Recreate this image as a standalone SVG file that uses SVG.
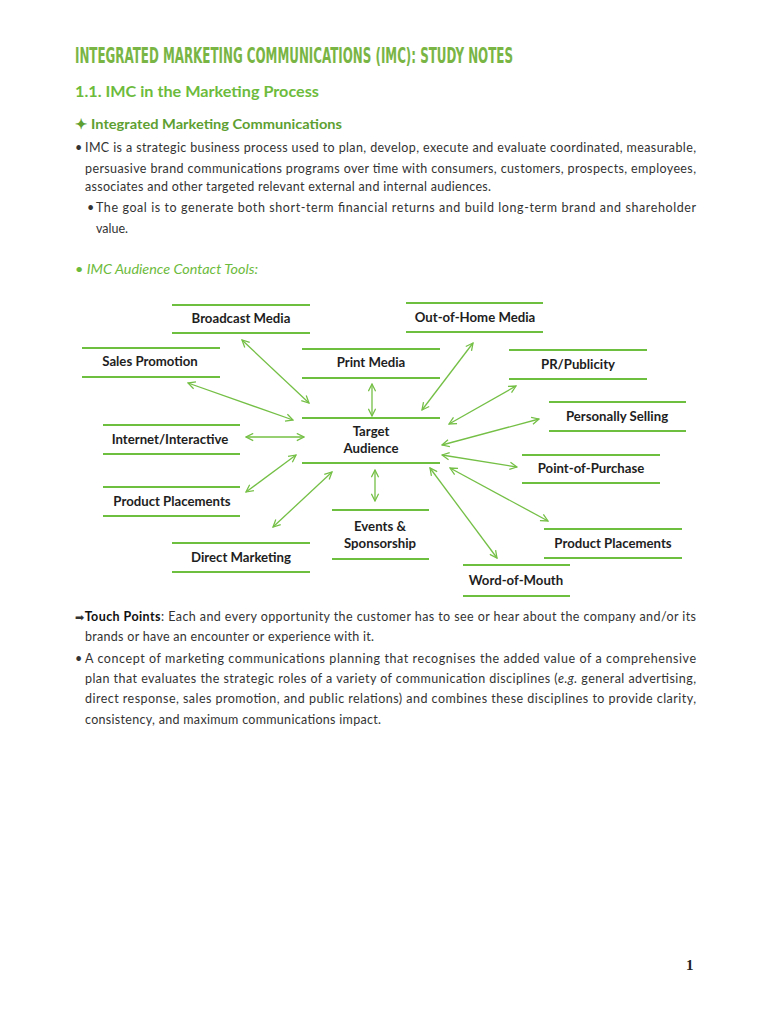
<svg xmlns="http://www.w3.org/2000/svg" width="768" height="1024" viewBox="0 0 768 1024">
<style>
.title{font-family:"DejaVu Sans Condensed","DejaVu Sans",sans-serif;font-weight:bold;font-size:21px;fill:#79b545}
.sub{font-family:Lato,"Noto Sans",sans-serif;font-weight:bold;font-size:15px;fill:#6dbb3d}
.h3{font-family:Lato,"Noto Sans",sans-serif;font-weight:bold;font-size:14px;fill:#5e9f32}
.body{font-family:Lato,"Noto Sans",sans-serif;font-size:12.5px;fill:#333}
.it{font-family:Lato,"Noto Sans",sans-serif;font-style:italic;font-size:13.5px;fill:#6dbb3d}
.lbl{font-family:Lato,"Noto Sans",sans-serif;font-weight:bold;font-size:13.2px;fill:#1e1e1e;text-anchor:middle}
.rule{stroke:#6cbf3f;stroke-width:2}
.conn{stroke:#74bf45;stroke-width:1.3;fill:none;marker-start:url(#ah);marker-end:url(#ah)}
.pg{font-family:"Liberation Serif",serif;font-weight:bold;font-size:15px;fill:#222}
</style>
<defs>
<marker id="ah" viewBox="0 0 10 10" refX="9" refY="5" markerWidth="9" markerHeight="9" markerUnits="userSpaceOnUse" orient="auto-start-reverse">
<path d="M1,1 L9,5 L1,9" fill="none" stroke="#74bf45" stroke-width="1.4"/>
</marker>
</defs>
<rect width="768" height="1024" fill="#fff"/>

<text class="title" transform="scale(0.7,1)" x="107.14" y="63" textLength="625.7" lengthAdjust="spacingAndGlyphs">INTEGRATED MARKETING COMMUNICATIONS (IMC): STUDY NOTES</text>
<text class="sub" x="75" y="97" textLength="244" lengthAdjust="spacingAndGlyphs">1.1. IMC in the Marketing Process</text>
<text class="h3" x="75" y="129" textLength="267" lengthAdjust="spacingAndGlyphs">✦ Integrated Marketing Communications</text>

<text class="body" x="75" y="152">•</text>
<text class="body" x="85" y="152" textLength="611" lengthAdjust="spacing">IMC is a strategic business process used to plan, develop, execute and evaluate coordinated, measurable,</text>
<text class="body" x="85" y="173" textLength="611" lengthAdjust="spacing">persuasive brand communications programs over time with consumers, customers, prospects, employees,</text>
<text class="body" x="85" y="191" textLength="406" lengthAdjust="spacing">associates and other targeted relevant external and internal audiences.</text>
<text class="body" x="87" y="212">•</text>
<text class="body" x="96" y="212" textLength="600" lengthAdjust="spacing">The goal is to generate both short-term financial returns and build long-term brand and shareholder</text>
<text class="body" x="96" y="233">value.</text>

<text class="it" x="75" y="274" textLength="183" lengthAdjust="spacingAndGlyphs">• IMC Audience Contact Tools:</text>

<g id="connectors">
<line class="conn" x1="242" y1="340" x2="309" y2="403"/>
<line class="conn" x1="188" y1="383" x2="293" y2="420"/>
<line class="conn" x1="372" y1="384" x2="372" y2="416"/>
<line class="conn" x1="473" y1="343" x2="422" y2="410"/>
<line class="conn" x1="516" y1="386" x2="449" y2="424"/>
<line class="conn" x1="539" y1="419" x2="442" y2="445"/>
<line class="conn" x1="246" y1="437" x2="304" y2="437"/>
<line class="conn" x1="442" y1="455" x2="517" y2="467"/>
<line class="conn" x1="296" y1="455" x2="246" y2="492"/>
<line class="conn" x1="332" y1="472" x2="273" y2="527"/>
<line class="conn" x1="375" y1="470" x2="375" y2="501"/>
<line class="conn" x1="450" y1="468" x2="548" y2="521"/>
<line class="conn" x1="430" y1="468" x2="497" y2="558"/>
</g>

<g id="broadcast">
<line class="rule" x1="172" y1="305" x2="310" y2="305"/><line class="rule" x1="172" y1="333" x2="310" y2="333"/>
<text class="lbl" x="241" y="323">Broadcast Media</text></g>
<g id="outofhome">
<line class="rule" x1="406" y1="303" x2="543" y2="303"/><line class="rule" x1="406" y1="332" x2="543" y2="332"/>
<text class="lbl" x="475" y="322">Out-of-Home Media</text></g>
<g id="salespromo">
<line class="rule" x1="82" y1="348" x2="220" y2="348"/><line class="rule" x1="82" y1="377" x2="220" y2="377"/>
<text class="lbl" x="150" y="366">Sales Promotion</text></g>
<g id="print">
<line class="rule" x1="302" y1="349" x2="440" y2="349"/><line class="rule" x1="302" y1="378" x2="440" y2="378"/>
<text class="lbl" x="371" y="367">Print Media</text></g>
<g id="pr">
<line class="rule" x1="509" y1="350" x2="647" y2="350"/><line class="rule" x1="509" y1="379" x2="647" y2="379"/>
<text class="lbl" x="578" y="369">PR/Publicity</text></g>
<g id="personal">
<line class="rule" x1="549" y1="402" x2="686" y2="402"/><line class="rule" x1="549" y1="431" x2="686" y2="431"/>
<text class="lbl" x="617" y="421">Personally Selling</text></g>
<g id="target">
<line class="rule" x1="302" y1="418" x2="440" y2="418"/><line class="rule" x1="302" y1="463" x2="440" y2="463"/>
<text class="lbl" x="371" y="436">Target</text><text class="lbl" x="371" y="453">Audience</text></g>
<g id="internet">
<line class="rule" x1="103" y1="425" x2="240" y2="425"/><line class="rule" x1="103" y1="454" x2="240" y2="454"/>
<text class="lbl" x="170" y="444">Internet/Interactive</text></g>
<g id="pop">
<line class="rule" x1="522" y1="455" x2="660" y2="455"/><line class="rule" x1="522" y1="483" x2="660" y2="483"/>
<text class="lbl" x="591" y="473">Point-of-Purchase</text></g>
<g id="prodleft">
<line class="rule" x1="103" y1="487" x2="240" y2="487"/><line class="rule" x1="103" y1="516" x2="240" y2="516"/>
<text class="lbl" x="172" y="506">Product Placements</text></g>
<g id="events">
<line class="rule" x1="332" y1="510" x2="429" y2="510"/><line class="rule" x1="332" y1="559" x2="429" y2="559"/>
<text class="lbl" x="380" y="531">Events &amp;</text><text class="lbl" x="380" y="548">Sponsorship</text></g>
<g id="prodright">
<line class="rule" x1="544" y1="529" x2="682" y2="529"/><line class="rule" x1="544" y1="558" x2="682" y2="558"/>
<text class="lbl" x="613" y="548">Product Placements</text></g>
<g id="direct">
<line class="rule" x1="172" y1="543" x2="310" y2="543"/><line class="rule" x1="172" y1="572" x2="310" y2="572"/>
<text class="lbl" x="241" y="562">Direct Marketing</text></g>
<g id="wom">
<line class="rule" x1="463" y1="565" x2="570" y2="565"/><line class="rule" x1="463" y1="596" x2="570" y2="596"/>
<text class="lbl" x="516" y="585">Word-of-Mouth</text></g>

<text class="body" x="75" y="621" textLength="621" lengthAdjust="spacing"><tspan font-family="DejaVu Sans" font-size="11">➡</tspan><tspan font-weight="bold" fill="#111">Touch Points</tspan>: Each and every opportunity the customer has to see or hear about the company and/or its</text>
<text class="body" x="85" y="641" textLength="289" lengthAdjust="spacing">brands or have an encounter or experience with it.</text>
<text class="body" x="75" y="663">•</text>
<text class="body" x="85" y="663" textLength="611" lengthAdjust="spacing">A concept of marketing communications planning that recognises the added value of a comprehensive</text>
<text class="body" x="85" y="683" textLength="611" lengthAdjust="spacing">plan that evaluates the strategic roles of a variety of communication disciplines (<tspan font-style="italic">e.g.</tspan> general advertising,</text>
<text class="body" x="85" y="703" textLength="611" lengthAdjust="spacing">direct response, sales promotion, and public relations) and combines these disciplines to provide clarity,</text>
<text class="body" x="85" y="724" textLength="296" lengthAdjust="spacing">consistency, and maximum communications impact.</text>

<text class="pg" x="686" y="970">1</text>
</svg>
